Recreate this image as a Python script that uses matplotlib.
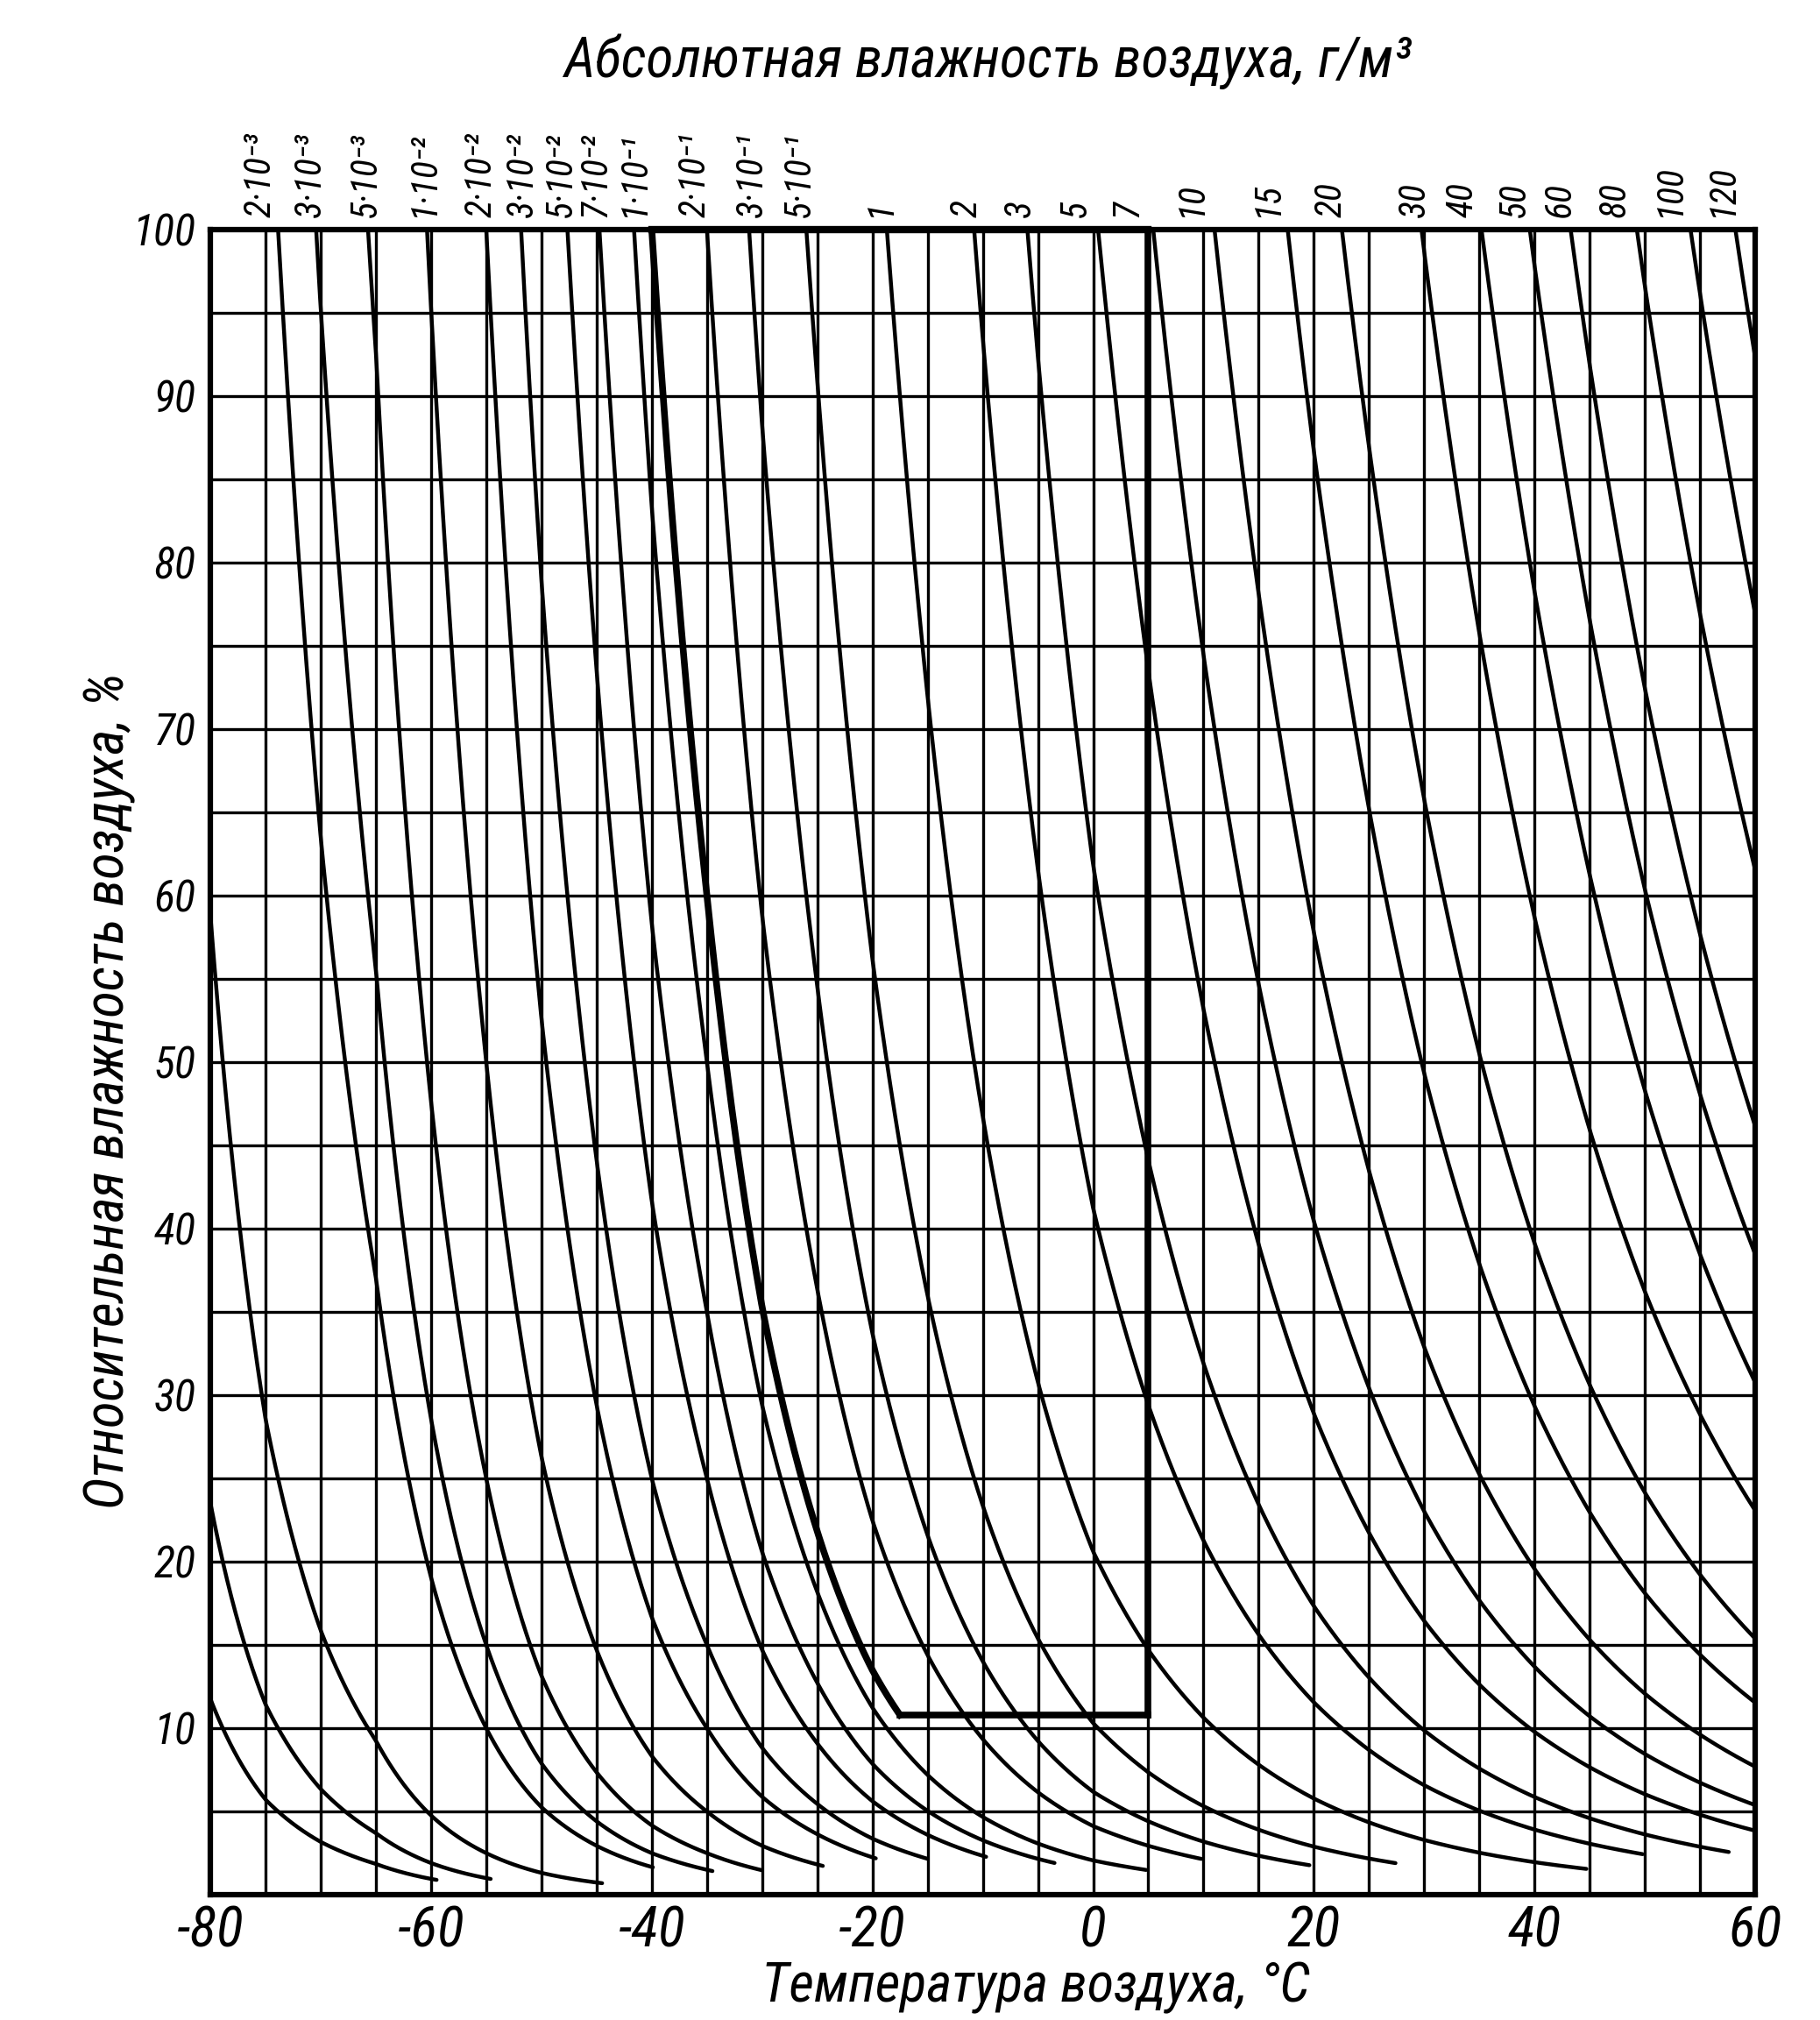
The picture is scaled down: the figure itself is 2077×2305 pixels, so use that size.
import numpy as np
import matplotlib.pyplot as plt
from matplotlib import font_manager

# saturation absolute humidity of the chart, g/m3, at the grid temperatures
sat_temp = [-80, -75, -70, -65, -60, -55, -50, -45, -40, -35, -30, -25, -20, -15,
            -10, -5, 0, 5, 10, 15, 20, 25, 30, 35, 40, 45, 50, 55, 60]
sat_abs = [8.5e-4, 1.75e-3, 3.15e-3, 5.4e-3, 1.05e-2, 2.0e-2, 3.8e-2, 6.8e-2, 0.12, 0.20,
           0.34, 0.55, 0.89, 1.39, 2.14, 3.25, 4.85, 6.8, 9.4, 12.8, 17.3, 23.0, 30.4,
           39.6, 51.1, 65.3, 82.8, 104.0, 130.0]

# curves of constant absolute humidity, g/m3, and the temperature where each one ends
abs_hum = [1e-4, 2e-4, 5e-4, 2e-3, 3e-3, 5e-3, 1e-2, 2e-2, 3e-2, 5e-2, 7e-2, 1e-1,
           2e-1, 3e-1, 5e-1, 1, 2, 3, 5, 7, 10, 15, 20, 30, 40, 50, 60, 80, 100, 120]
end_temp = [-59.5, -54.6, -44.5, -39.9, -34.5, -30, -24.5, -19.7, -15, -9.7, -3.5, 4.8,
            9.8, 19.6, 27.4, 44.7, 49.8, 57.6, 60, 60, 60, 60, 60, 60, 60, 60, 60, 60, 60, 60]

# labels on top and the temperature they stand at
top_labels = ['2·10⁻³', '3·10⁻³', '5·10⁻³', '1·10⁻²', '2·10⁻²', '3·10⁻²', '5·10⁻²',
              '7·10⁻²', '1·10⁻¹', '2·10⁻¹', '3·10⁻¹', '5·10⁻¹', '1', '2', '3', '5', '7',
              '10', '15', '20', '30', '40', '50', '60', '80', '100', '120']
label_temp = [-75.5, -70.9, -65.9, -60.7, -55.5, -51.7, -48.2, -45.1, -41.6, -36.1, -30.9,
              -26.6, -19.3, -11.5, -6.6, -1.6, 3.1, 8.9, 15.8, 21.6, 29.1, 33.5, 38.2,
              42.3, 47.3, 52.3, 57.0]

# worked example drawn with a heavy line
ex_abs = 0.12
ex_rh = 10.8
ex_temp = 5

names = {f.name for f in font_manager.fontManager.ttflist}
main_font = 'DejaVu Sans'
for cand in ['Liberation Sans Narrow', 'DejaVu Sans Condensed', 'Roboto Condensed',
             'Liberation Sans', 'Roboto']:
    if cand in names:
        main_font = cand
        break
plt.rcParams['font.family'] = [main_font, 'DejaVu Sans']
plt.rcParams['font.style'] = 'italic'

log_sat = np.log(sat_abs)


def rh_of(a, t):
    return 100 * a / np.exp(np.interp(t, sat_temp, log_sat))


def dew_of(a):
    return np.interp(np.log(a), log_sat, sat_temp, left=-200)


fig = plt.figure(figsize=(20.77, 23.05), dpi=100)
ax = fig.add_axes([0.1156, 0.0620, 0.8488, 0.8243])

for a, te in zip(abs_hum, end_temp):
    t0 = max(-80, dew_of(a))
    t = np.linspace(t0, te, 400)
    ax.plot(t, rh_of(a, t), color='black', lw=3.2, solid_capstyle='round')

# example path
t_start = dew_of(ex_abs)
t_turn = np.interp(np.log(ex_abs * 100 / ex_rh), log_sat, sat_temp)
t = np.linspace(t_start, t_turn, 200)
ax.plot(t, rh_of(ex_abs, t), color='black', lw=5.5)
ax.plot([t_turn, ex_temp], [ex_rh, ex_rh], color='black', lw=5.5)
ax.plot([ex_temp, ex_temp], [ex_rh, 100], color='black', lw=5.5)
ax.plot([t_start, ex_temp], [100, 100], color='black', lw=6, clip_on=False)

ax.set_xlim(-80, 60)
ax.set_ylim(0, 100)
ax.set_xticks(np.arange(-80, 61, 5))
ax.set_xticklabels([str(v) if v % 20 == 0 else '' for v in range(-80, 61, 5)])
ax.set_yticks(np.arange(0, 101, 5))
ax.set_yticklabels([str(v) if v % 10 == 0 and v > 0 else '' for v in range(0, 101, 5)])
ax.tick_params(length=0)
ax.tick_params(axis='x', labelsize=46, pad=8)
ax.tick_params(axis='y', labelsize=36, pad=12)
ax.grid(True, color='black', lw=2.4)
for s in ax.spines.values():
    s.set_linewidth(4.5)

for lab, tl in zip(top_labels, label_temp):
    ax.annotate(lab, (tl, 100), xytext=(0, 10), textcoords='offset points',
                rotation=90, ha='center', va='bottom', fontsize=30)

ax.text(0.503, 1.101, 'Абсолютная влажность воздуха, г/м³', transform=ax.transAxes,
        ha='center', va='center', fontsize=46)
ax.text(0.534, -0.056, 'Температура воздуха, °С', transform=ax.transAxes,
        ha='center', va='center', fontsize=45)
ax.text(-0.065, 0.483, 'Относительная влажность воздуха, %', transform=ax.transAxes,
        ha='center', va='center', rotation=90, fontsize=45)

fig.savefig('out.png', dpi=100)
